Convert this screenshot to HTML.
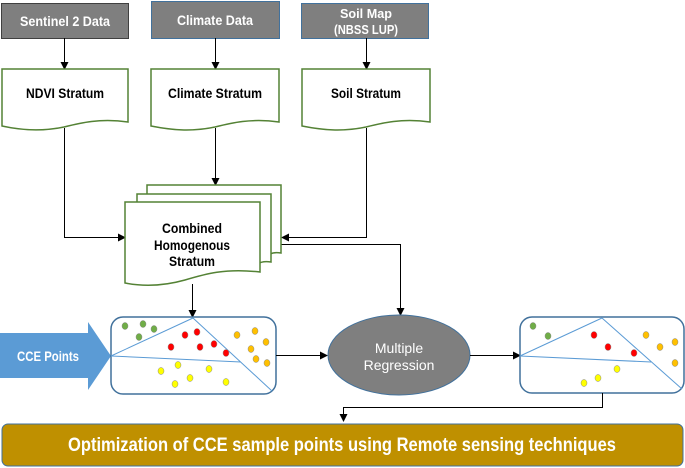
<!DOCTYPE html>
<html><head><meta charset="utf-8"><style>html,body{margin:0;padding:0;background:#fff}svg{display:block}</style></head>
<body>
<svg width="685" height="468" viewBox="0 0 685 468" xmlns="http://www.w3.org/2000/svg" font-family="Liberation Sans, sans-serif" font-weight="bold">
<defs>
<marker id="a" markerWidth="8" markerHeight="8" refX="7" refY="4" orient="auto" markerUnits="userSpaceOnUse"><path d="M0,0 L8,4 L0,8 z" fill="#000"/></marker>
</defs>
<rect x="1.5" y="3.5" width="127" height="35" fill="#7f7f7f" stroke="#404040"/>
<text x="65" y="26" fill="#fff" font-size="14" text-anchor="middle" textLength="90" lengthAdjust="spacingAndGlyphs">Sentinel 2 Data</text>
<rect x="151.5" y="1.5" width="128" height="37" fill="#7f7f7f" stroke="#41719c"/>
<text x="215" y="25" fill="#fff" font-size="14" text-anchor="middle" textLength="76" lengthAdjust="spacingAndGlyphs">Climate Data</text>
<rect x="301.5" y="3.5" width="127" height="35" fill="#7f7f7f" stroke="#41719c"/>
<text x="366" y="18" fill="#fff" font-size="13" text-anchor="middle" textLength="52" lengthAdjust="spacingAndGlyphs">Soil Map</text>
<text x="366" y="34" fill="#fff" font-size="13" text-anchor="middle" textLength="64" lengthAdjust="spacingAndGlyphs">(NBSS LUP)</text>
<line x1="64.5" y1="38" x2="64.5" y2="69" stroke="#000" marker-end="url(#a)"/>
<line x1="215.5" y1="38" x2="215.5" y2="69" stroke="#000" marker-end="url(#a)"/>
<line x1="366.5" y1="38" x2="366.5" y2="69" stroke="#000" marker-end="url(#a)"/>
<g fill="#fff" stroke="#548235" stroke-width="1.5">
<path d="M2,69 H128 V122 C100,118 80,123 64,127 C40,132 20,130 2,126 Z"/>
<path d="M151,69 H279 V122 C251,118 231,123 215,127 C191,132 171,130 151,126 Z"/>
<path d="M302,69 H430 V122 C402,118 382,123 366,127 C342,132 322,130 302,126 Z"/>
</g>
<g font-size="14" text-anchor="middle" fill="#000">
<text x="65" y="98" textLength="78" lengthAdjust="spacingAndGlyphs">NDVI Stratum</text>
<text x="215" y="98" textLength="94" lengthAdjust="spacingAndGlyphs">Climate Stratum</text>
<text x="366" y="98" textLength="70" lengthAdjust="spacingAndGlyphs">Soil Stratum</text>
</g>
<path d="M64.5,128 V237.5 H125" fill="none" stroke="#000" marker-end="url(#a)"/>
<line x1="215.5" y1="128" x2="215.5" y2="185" stroke="#000" marker-end="url(#a)"/>
<path d="M366.5,128 V237.5 H282" fill="none" stroke="#000" marker-end="url(#a)"/>
<path d="M281,244.5 H400.5 V315" fill="none" stroke="#000" marker-end="url(#a)"/>
<g fill="#fff" stroke="#548235" stroke-width="1.5">
<path d="M147,185 H281 V253 C275,252 272,253 270,254 L270,200 H147 Z"/>
<path d="M137,194 H271 V262 C265,261 262,262 259,263 L259,208 H137 Z"/>
<path d="M125,202 H260 V272 C225,268 205,274 185,280 C160,287 140,286 125,283 Z"/>
</g>
<g font-size="14" text-anchor="middle" fill="#000">
<text x="192" y="233" textLength="60" lengthAdjust="spacingAndGlyphs">Combined</text>
<text x="192" y="250" textLength="76" lengthAdjust="spacingAndGlyphs">Homogenous</text>
<text x="192" y="266" textLength="46" lengthAdjust="spacingAndGlyphs">Stratum</text>
</g>
<line x1="192.5" y1="284" x2="192.5" y2="317" stroke="#000" marker-end="url(#a)"/>
<path d="M0,333 H88 V322 L111,356 L88,390 V378 H0 Z" fill="#5b9bd5"/>
<text x="48" y="361" fill="#fff" font-size="14" text-anchor="middle" textLength="62" lengthAdjust="spacingAndGlyphs">CCE Points</text>
<rect x="111" y="317" width="165" height="77" rx="12" fill="#fff" stroke="#41719c" stroke-width="1.5"/>
<g stroke="#5b9bd5" stroke-width="1">
<line x1="111" y1="356" x2="193" y2="318"/><line x1="193" y1="318" x2="272" y2="391"/><line x1="111" y1="356" x2="241" y2="362"/>
</g>
<g stroke="#888" stroke-width="0.5">
<g fill="#70ad47"><ellipse cx="125" cy="326" rx="3" ry="3.5"/><ellipse cx="143" cy="324" rx="3" ry="3.5"/><ellipse cx="154" cy="329" rx="3" ry="3.5"/><ellipse cx="139" cy="337" rx="3" ry="3.5"/></g>
<g fill="#ff0000"><ellipse cx="185" cy="335" rx="3" ry="3.5"/><ellipse cx="197" cy="332" rx="3" ry="3.5"/><ellipse cx="171" cy="347" rx="3" ry="3.5"/><ellipse cx="200" cy="347" rx="3" ry="3.5"/><ellipse cx="214" cy="344" rx="3" ry="3.5"/><ellipse cx="226" cy="353" rx="3" ry="3.5"/></g>
<g fill="#ffc000"><ellipse cx="237" cy="335" rx="3" ry="3.5"/><ellipse cx="255" cy="331" rx="3" ry="3.5"/><ellipse cx="266" cy="342" rx="3" ry="3.5"/><ellipse cx="251" cy="349" rx="3" ry="3.5"/><ellipse cx="256" cy="359" rx="3" ry="3.5"/><ellipse cx="267" cy="363" rx="3" ry="3.5"/></g>
<g fill="#ffff00"><ellipse cx="161" cy="371" rx="3" ry="3.5"/><ellipse cx="178" cy="365" rx="3" ry="3.5"/><ellipse cx="209" cy="369" rx="3" ry="3.5"/><ellipse cx="175" cy="384" rx="3" ry="3.5"/><ellipse cx="190" cy="378" rx="3" ry="3.5"/><ellipse cx="226" cy="382" rx="3" ry="3.5"/></g>
</g>
<line x1="276" y1="355.5" x2="327" y2="355.5" stroke="#000" marker-end="url(#a)"/>
<ellipse cx="399" cy="355" rx="71" ry="40" fill="#7f7f7f" stroke="#41719c"/>
<text x="399" y="353" fill="#fff" font-size="14" text-anchor="middle" font-weight="normal">Multiple</text>
<text x="399" y="370" fill="#fff" font-size="14" text-anchor="middle" font-weight="normal">Regression</text>
<line x1="470" y1="355.5" x2="520" y2="355.5" stroke="#000" marker-end="url(#a)"/>
<rect x="520" y="317" width="164" height="76" rx="12" fill="#fff" stroke="#41719c" stroke-width="1.5"/>
<g stroke="#5b9bd5" stroke-width="1">
<line x1="520" y1="356" x2="602" y2="318"/><line x1="602" y1="318" x2="682" y2="389"/><line x1="520" y1="356" x2="651" y2="362"/>
</g>
<g stroke="#888" stroke-width="0.5">
<g fill="#70ad47"><ellipse cx="533" cy="326" rx="3" ry="3.5"/><ellipse cx="548" cy="336" rx="3" ry="3.5"/></g>
<g fill="#ff0000"><ellipse cx="594" cy="335" rx="3" ry="3.5"/><ellipse cx="608" cy="347" rx="3" ry="3.5"/><ellipse cx="634" cy="353" rx="3" ry="3.5"/></g>
<g fill="#ffc000"><ellipse cx="646" cy="335" rx="3" ry="3.5"/><ellipse cx="660" cy="347" rx="3" ry="3.5"/><ellipse cx="675" cy="342" rx="3" ry="3.5"/><ellipse cx="675" cy="363" rx="3" ry="3.5"/></g>
<g fill="#ffff00"><ellipse cx="617" cy="369" rx="3" ry="3.5"/><ellipse cx="598" cy="378" rx="3" ry="3.5"/><ellipse cx="584" cy="383" rx="3" ry="3.5"/></g>
</g>
<path d="M602.5,393 V407.5 H343.5 V421" fill="none" stroke="#000" marker-end="url(#a)"/>
<rect x="2" y="424" width="681" height="42" rx="6" fill="#bf9000" stroke="#41719c"/>
<text x="342" y="451" fill="#fff" font-size="19" text-anchor="middle" textLength="548" lengthAdjust="spacingAndGlyphs">Optimization of CCE sample points using Remote sensing techniques</text>
</svg>
</body></html>
